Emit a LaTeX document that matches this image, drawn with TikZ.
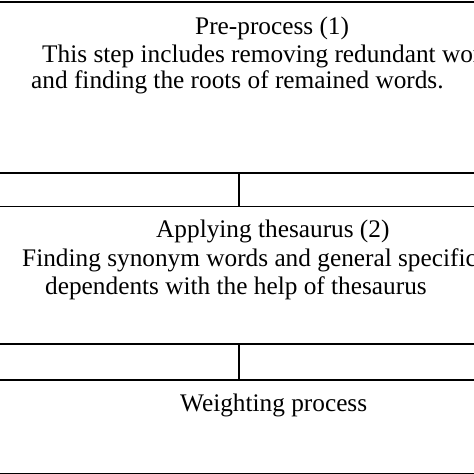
\documentclass[tikz,border=0pt]{standalone}
\usepackage{fontspec}
\setmainfont{Liberation Serif}
\begin{document}
\begin{tikzpicture}[x=1pt,y=-1pt,
  stagebox/.style={draw=black, line width=1.6pt, rectangle, inner sep=0pt, anchor=north west},
  txt/.style={anchor=base west, inner sep=0pt, font=\fontsize{25.3}{27}\selectfont},
  link/.style={draw=black, line width=1.6pt}]
\useasboundingbox (0,0) rectangle (474,474);
\clip (0,0) rectangle (474,474);
\fill[white] (0,0) rectangle (474,474);
% boxes (wider than the visible region)
\node[stagebox, minimum width=620pt, minimum height=171pt] (box1) at (-40,1.3) {};
\node[stagebox, minimum width=620pt, minimum height=137.8pt] (box2) at (-40,205.5) {};
\node[stagebox, minimum width=620pt, minimum height=93.2pt] (box3) at (-40,379.3) {};
\coordinate (mid) at (239,0);
% connectors
\draw[link] (box1.south -| mid) -- (box2.north -| mid);
\draw[link] (box2.south -| mid) -- (box3.north -| mid);
% texts
\node[txt] (t1a) at (195,34.5) {Pre-process (1)};
\node[txt] (t1b) at (42,62) {This step includes removing redundant words};
\node[txt] (t1c) at (31,88) {and finding the roots of remained words.};
\node[txt] (t2a) at (156,237) {Applying thesaurus (2)};
\node[txt] (t2b) at (22,266) {Finding synonym words and general specific};
\node[txt] (t2c) at (45,294) {dependents with the help of thesaurus};
\node[txt] (t3a) at (180,411.7) {Weighting process};
\end{tikzpicture}
\end{document}
